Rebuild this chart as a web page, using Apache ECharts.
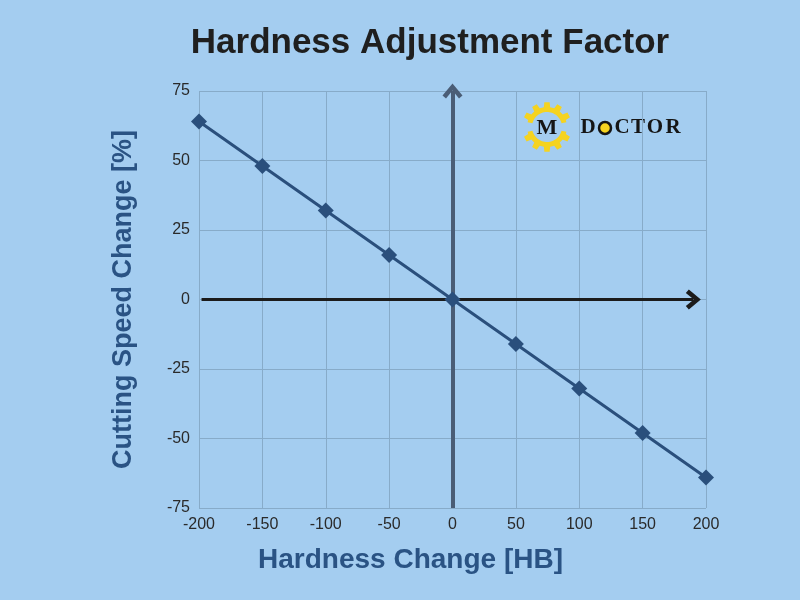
<!DOCTYPE html>
<html><head><meta charset="utf-8">
<script src="https://cdn.jsdelivr.net/npm/echarts@6/dist/echarts.min.js"></script>
<style>html,body{margin:0;padding:0;background:#a4cdf0}#c{width:800px;height:600px}</style>
</head><body><div id="c"></div>
<script>
const hardnessChange = [-200, -150, -100, -50, 0, 50, 100, 150, 200];
const speedChange = [64, 48, 32, 16, 0, -16, -32, -48, -64];
const xTicks = [-200, -150, -100, -50, 0, 50, 100, 150, 200];
const yTicks = [-75, -50, -25, 0, 25, 50, 75];

const chevron = 'path://M0,12 L10,0 L20,12 L16.5,15 L10,7 L3.5,15 Z';

function gearHalf(cx, cy, a0, a1, rIn, rOut, rTooth, teeth) {
  const pts = [];
  const toRad = d => d * Math.PI / 180;
  const p = (r, a) => [cx + r * Math.cos(toRad(a)), cy - r * Math.sin(toRad(a))];
  const step = (a1 - a0) / teeth;
  for (let i = 0; i < teeth; i++) {
    const s = a0 + i * step;
    const m = s + step / 2;
    const tw = step * 0.2;
    pts.push(p(rOut, s), p(rOut, m - tw - 3), p(rTooth, m - tw), p(rTooth, m + tw), p(rOut, m + tw + 3));
  }
  pts.push(p(rOut, a1));
  for (let a = a1; a >= a0; a -= 5) pts.push(p(rIn, a));
  pts.push(p(rIn, a0));
  return pts;
}

const logoLetters = [['D', 588], ['C', 622], ['T', 638], ['O', 655], ['R', 673]];
const logoGraphics = [
  {type: 'polygon', shape: {points: gearHalf(547, 127, 14, 166, 15, 20, 25, 5)}, style: {fill: '#f5d320'}},
  {type: 'polygon', shape: {points: gearHalf(547, 127, 194, 346, 15, 20, 25, 5)}, style: {fill: '#f5d320'}},
  {type: 'text', x: 547, y: 128, style: {text: 'M', fontFamily: 'Liberation Serif', fontWeight: 'bold', fontSize: 22,
    fill: '#151515', textAlign: 'center', textVerticalAlign: 'middle'}},
  {type: 'circle', shape: {cx: 605, cy: 128, r: 6}, style: {fill: '#f5d320', stroke: '#151515', lineWidth: 2.5}}
].concat(logoLetters.map(([t, x]) => ({type: 'text', x: x, y: 128,
  style: {text: t, fontFamily: 'Liberation Serif', fontWeight: 'bold', fontSize: 21, fill: '#151515',
    textAlign: 'center', textVerticalAlign: 'middle'}})));

const chart = echarts.init(document.getElementById('c'));
chart.setOption({
  backgroundColor: '#a4cdf0',
  animation: false,
  title: {
    text: 'Hardness Adjustment Factor', left: 425, top: 21, textAlign: 'center',
    textStyle: {fontFamily: 'Liberation Sans', fontSize: 35, fontWeight: 'bold', color: '#1f1f1f'}
  },
  grid: {left: 199, right: 94, top: 91, bottom: 92},
  xAxis: {
    type: 'value', min: -200, max: 200, interval: 50,
    name: 'Hardness Change [HB]', nameLocation: 'middle', nameGap: 38,
    nameTextStyle: {fontFamily: 'Liberation Sans', fontSize: 28, fontWeight: 'bold', color: '#2a5384', padding: [0, 0, 0, -84]},
    axisLine: {show: false}, axisTick: {show: false},
    axisLabel: {fontFamily: 'Liberation Sans', fontSize: 16, color: '#2a2a2a', margin: 9,
      formatter: v => xTicks.includes(v) ? String(v) : ''},
    splitLine: {show: true, lineStyle: {color: '#87abc9', width: 1}}
  },
  yAxis: {
    type: 'value', min: -75, max: 75, interval: 25,
    name: 'Cutting Speed Change [%]', nameLocation: 'middle', nameGap: 62,
    nameTextStyle: {fontFamily: 'Liberation Sans', fontSize: 27, fontWeight: 'bold', color: '#2a5384'},
    axisLine: {show: false}, axisTick: {show: false},
    axisLabel: {fontFamily: 'Liberation Sans', fontSize: 16, color: '#2a2a2a', margin: 9,
      formatter: v => yTicks.includes(v) ? String(v) : ''},
    splitLine: {show: true, lineStyle: {color: '#87abc9', width: 1}}
  },
  graphic: logoGraphics,
  series: [
    {
      type: 'line', data: [], silent: true,
      markLine: {
        silent: true, symbol: ['none', chevron], symbolSize: [20, 15], label: {show: false},
        data: [
          [{coord: [0, -75], lineStyle: {color: '#4a5d76', width: 4, type: 'solid'}}, {coord: [0, 75]}],
          [{coord: [-198, 0], lineStyle: {color: '#1b1b1b', width: 3, type: 'solid'}}, {coord: [190, 0]}]
        ]
      }
    },
    {
      type: 'line', data: hardnessChange.map((x, i) => [x, speedChange[i]]),
      symbol: 'diamond', symbolSize: 16, lineStyle: {color: '#2a4f7c', width: 3},
      itemStyle: {color: '#2a4f7c'}, z: 5
    }
  ]
});
</script></body></html>
